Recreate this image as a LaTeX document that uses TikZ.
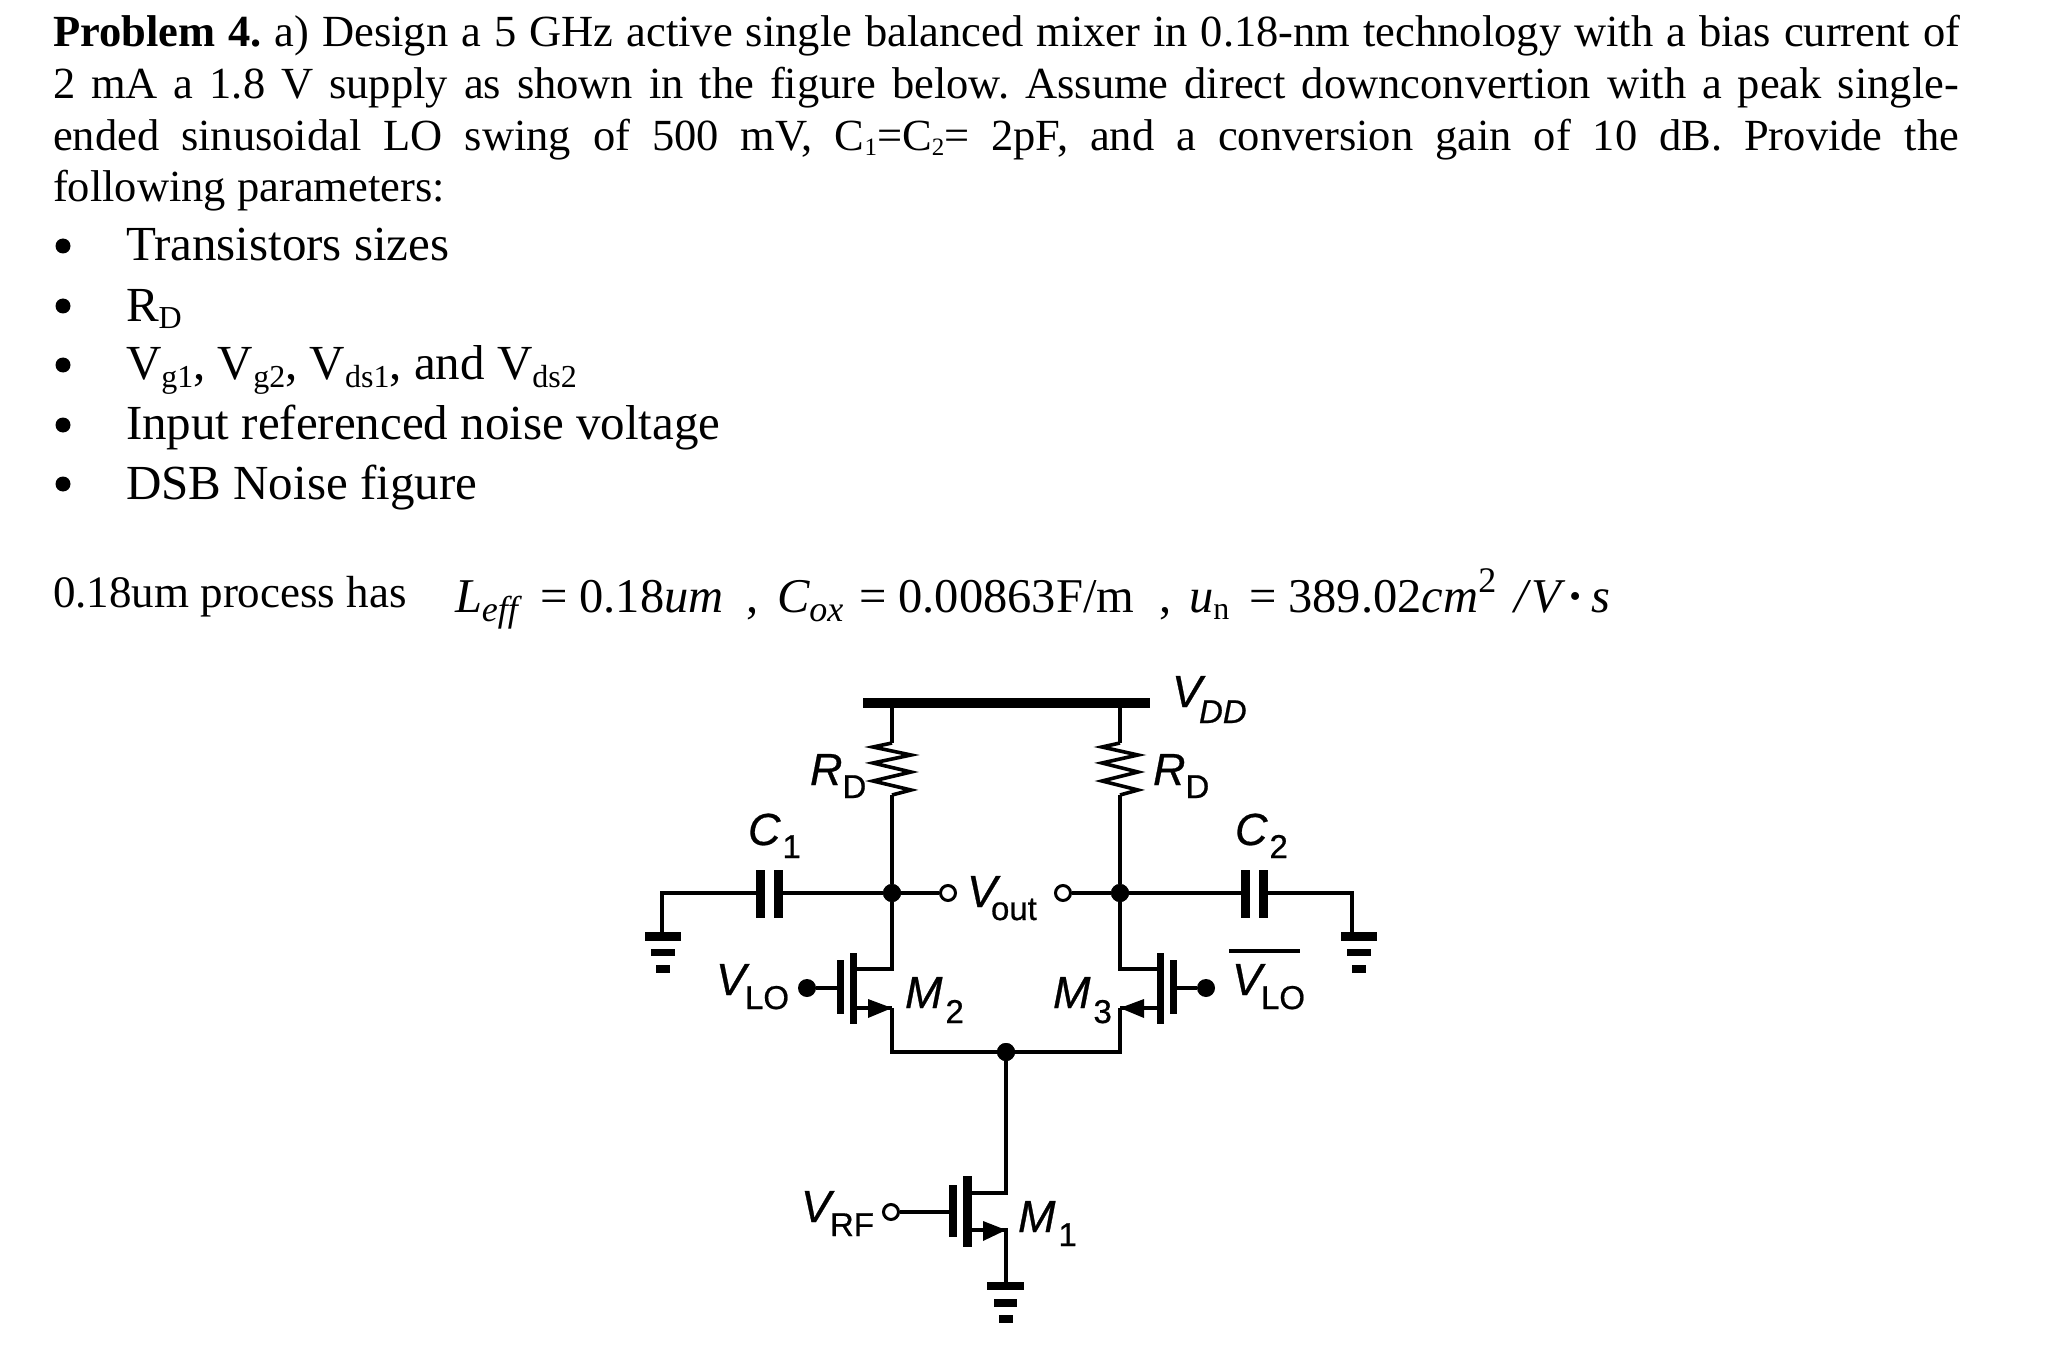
\documentclass[tikz,border=0pt]{standalone}
\usepackage{fontspec}
\setmainfont{Liberation Serif}
\newfontfamily\lab[FakeBold=0.6]{Liberation Sans}
\newcommand{\sz}{\fontsize{44.5}{50}\selectfont}
\newcommand{\szi}{\fontsize{49}{54}\selectfont}
\newcommand{\szm}{\fontsize{48.5}{54}\selectfont}
\newcommand{\subt}[1]{\raisebox{-7pt}{\fontsize{32}{33}\selectfont #1}}
\newcommand{\subc}[1]{\raisebox{-5pt}{\fontsize{25}{26}\selectfont #1}}
\newcommand{\subl}[3]{\kern#1pt\raisebox{-#2pt}{\fontsize{33}{34}\selectfont #3}}
\frenchspacing
\tikzset{
  txt/.style={inner sep=0,outer sep=0,anchor=base west,font=\sz},
  item/.style={txt,font=\szi},
  mrow/.style={txt,font=\szm},
  biglab/.style={inner sep=0,outer sep=0,anchor=base west,font=\lab\fontsize{45}{46}\selectfont},
  wire/.style={line width=4.2pt,line cap=butt,line join=miter},
  zig/.style={line width=3.6pt,line cap=butt,line join=miter},
  plate/.style={line width=9pt,line cap=butt},
  thick bar/.style={line width=9pt,line cap=butt},
  dot/.style={circle,fill=black,draw=none,minimum size=18pt,inner sep=0},
  open/.style={circle,draw=black,fill=white,line width=3pt,minimum size=15pt,inner sep=0},
  bul/.style={circle,fill=black,draw=none,minimum size=15pt,inner sep=0},
  head/.style={fill=black,draw=none}
}
\begin{document}
\begin{tikzpicture}[x=1pt,y=-1pt]
\useasboundingbox (0,0) rectangle (2046,1356);
\fill[white] (0,0) rectangle (2046,1356);
% ---------- text
\node[txt] (l1) at (53,47) {\hbox to 1917pt{\textbf{Problem 4.} a) Design a 5 GHz active single balanced mixer in 0.18-nm technology with a bias current of\kern10pt}};
\node[txt] (l2) at (53,99) {\hbox to 1906pt{2 mA a 1.8 V supply as shown in the figure below. Assume direct downconvertion with a peak single-}};
\node[txt] (l3) at (53,151) {\hbox to 1906pt{ended sinusoidal LO swing of 500 mV, C\subc{1}=C\subc{2}= 2pF, and a conversion gain of 10 dB. Provide the}};
\node[txt] (l4) at (53,202) {following parameters:};
\foreach \n/\y in {a/246,b/306,c/365,d/425,e/484}
  \node[bul] (bul\n) at (63,\y) {};
\node[item] (i1) at (126,261) {Transistors sizes};
\node[item] (i2) at (126,322) {R\subt{D}};
\node[item] (i3) at (126,380) {V\subt{g1}, V\subt{g2}, V\subt{ds1}, and V\subt{ds2}};
\node[item] (i4) at (126,439) {Input referenced noise voltage};
\node[item] (i5) at (126,499) {DSB Noise figure};
\node[txt,font=\fontsize{45}{50}\selectfont] (p0) at (53,607) {0.18um process has};
\node[mrow] (p1) at (455,612) {\itshape L\raisebox{-9pt}{\fontsize{36}{36}\selectfont eff}};
\node[mrow] (p2) at (540,612) {= 0.18\textit{um}};
\node[mrow] (p3) at (746,612) {,};
\node[mrow] (p4) at (777,612) {\itshape C\raisebox{-9pt}{\fontsize{36}{36}\selectfont ox}};
\node[mrow] (p5) at (859,612) {= 0.00863F/m};
\node[mrow] (p6) at (1159,612) {,};
\node[mrow] (p7) at (1189,612) {\itshape u\subt{\upshape n}};
\node[mrow] (p8) at (1249,612) {= 389.02\textit{cm}\raisebox{20pt}{\fontsize{36}{36}\selectfont 2}};
\node[mrow] (p9) at (1514,612) {\itshape /\kern4pt V\kern6pt\upshape\textbf{·}\kern8pt\itshape s};
% ---------- named points of the circuit
\coordinate (VL) at (892,703); \coordinate (VR) at (1120,703);
\coordinate (barL) at (863,703); \coordinate (barR) at (1150,703);
\coordinate (RLt) at (892,743); \coordinate (RLb) at (892,795);
\coordinate (RRt) at (1120,743); \coordinate (RRb) at (1120,795);
\coordinate (gLt) at (662,932); \coordinate (gRt) at (1352,932);
\coordinate (cornL) at (662,893); \coordinate (cornR) at (1352,893);
\coordinate (C1a) at (760,893); \coordinate (C1b) at (778,893);
\coordinate (C2a) at (1245,893); \coordinate (C2b) at (1263,893);
\coordinate (M2d) at (892,969); \coordinate (M2s) at (892,1008);
\coordinate (M3d) at (1120,969); \coordinate (M3s) at (1120,1008);
\coordinate (M2c) at (853,969); \coordinate (M3c) at (1160,969);
\coordinate (M2cs) at (853,1008); \coordinate (M3cs) at (1160,1008);
\coordinate (M2g) at (840,988); \coordinate (M3g) at (1173,988);
\coordinate (botL) at (892,1052); \coordinate (botR) at (1120,1052);
\coordinate (M1d) at (1006,1193); \coordinate (M1s) at (1006,1230);
\coordinate (M1c) at (967,1193); \coordinate (M1cs) at (967,1230);
\coordinate (M1g) at (953,1212);
\coordinate (g1t) at (1006,1286);
% ---------- junctions and terminals
\node[dot] (nL) at (892,893) {};
\node[dot] (nR) at (1120,893) {};
\node[dot] (nS) at (1006,1052) {};
\node[open] (oL) at (948,893) {};
\node[open] (oR) at (1063,893) {};
\node[dot] (dL) at (807,988) {};
\node[dot] (dR) at (1206,988) {};
\node[open] (oRF) at (891,1212) {};
% ---------- wires
\draw[line width=10pt] (barL) -- (barR);
\draw[wire] (VL) -- (RLt);
\draw[zig] (RLt) -- ++(-19,4) -- ++(38,8) -- ++(-38,8) -- ++(38,9) -- ++(-38,9) -- ++(38,9) -- (RLb);
\draw[wire] (RLb) -- (nL);
\draw[wire] (VR) -- (RRt);
\draw[zig] (RRt) -- ++(-18,4) -- ++(36,8) -- ++(-36,8) -- ++(36,9) -- ++(-36,9) -- ++(36,9) -- (RRb);
\draw[wire] (RRb) -- (nR);
\draw[wire] (gLt) -- (cornL) -- (C1a);
\draw[wire] (C1b) -- (nL);
\draw[wire] (nL) -- (oL);
\draw[wire] (oR) -- (nR);
\draw[wire] (nR) -- (C2a);
\draw[wire] (C2b) -- (cornR) -- (gRt);
\draw[wire] (nL) -- (M2d) -- (M2c);
\draw[wire] (nR) -- (M3d) -- (M3c);
\draw[wire] (M2s) -- (botL) -- (botR) -- (M3s);
\draw[wire] (M2cs) -- (M2s);
\draw[wire] (M3cs) -- (M3s);
\draw[wire] (dL) -- (M2g);
\draw[wire] (dR) -- (M3g);
\draw[wire] (nS) -- (M1d) -- (M1c);
\draw[wire] (oRF) -- (M1g);
\draw[wire] (M1cs) -- (M1s) -- (g1t);
\node[dot] at (nL) {};\node[dot] at (nR) {};\node[dot] at (nS) {};
% ---------- capacitors
\draw[plate] (760,870) -- (760,918); \draw[plate] (778,870) -- (778,918);
\draw[plate] (1245,870) -- (1245,918); \draw[plate] (1263,870) -- (1263,918);
% ---------- transistors
\draw[line width=7pt] (853,953) -- (853,1024);
\draw[line width=7pt] (840,960) -- (840,1014);
\draw[line width=7pt] (1160,953) -- (1160,1024);
\draw[line width=7pt] (1173,960) -- (1173,1014);
\draw[thick bar] (967,1176) -- (967,1247);
\draw[line width=8pt] (953,1185) -- (953,1237);
\fill[head] (M2s) -- ++(-24,-9) -- ++(0,19) -- cycle;
\fill[head] (M3s) -- ++(24,-9) -- ++(0,19) -- cycle;
\fill[head] (M1s) -- ++(-23,-9) -- ++(0,20) -- cycle;
% ---------- grounds
\foreach \x in {663,1359}{
  \draw[line width=9pt] (\x-18,936.5) -- (\x+18,936.5);
  \draw[line width=7pt] (\x-12,952.5) -- (\x+12,952.5);
  \draw[line width=8pt] (\x-7,968.5) -- (\x+7,968.5);
}
\draw[line width=8pt] (987,1286) -- (1024,1286);
\draw[line width=8pt] (994,1302.5) -- (1017,1302.5);
\draw[line width=8pt] (999,1318.5) -- (1013,1318.5);
% ---------- labels
\node[biglab] (lVDD) at (1172,707) {\itshape V\subl{-3}{16}{DD}};
\node[biglab] (lRDl) at (810,785) {\itshape R\subl{0}{13}{\upshape D}};
\node[biglab] (lRDr) at (1153,785) {\itshape R\subl{0}{13}{\upshape D}};
\node[biglab] (lC1) at (748,845) {\itshape C\subl{2}{13}{\upshape 1}};
\node[biglab] (lC2) at (1235,845) {\itshape C\subl{2}{13}{\upshape 2}};
\node[biglab] (lVout) at (967,907) {\itshape V\subl{-6}{13}{\upshape out}};
\node[biglab] (lVLO) at (716,995) {\itshape V\subl{-1}{14}{\upshape LO}};
\node[biglab] (lVLOb) at (1232,995) {\itshape V\subl{-1}{14}{\upshape LO}};
\node[biglab] (lM2) at (905,1008) {\itshape M\subl{3}{15}{\upshape 2}};
\node[biglab] (lM3) at (1053,1008) {\itshape M\subl{3}{15}{\upshape 3}};
\node[biglab] (lVRF) at (801,1222) {\itshape V\subl{-1}{14}{\upshape RF}};
\node[biglab] (lM1) at (1018,1232) {\itshape M\subl{3}{14}{\upshape 1}};
\draw[line width=4pt] (1229,951) -- (1300,951);
\end{tikzpicture}
\end{document}
